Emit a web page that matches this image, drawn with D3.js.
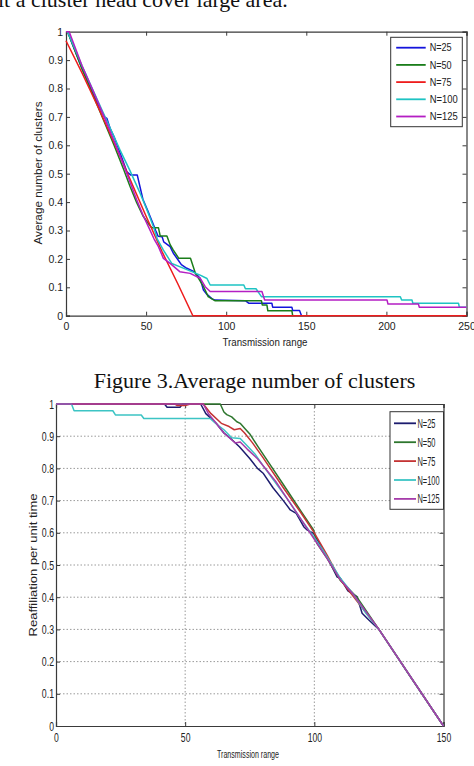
<!DOCTYPE html>
<html><head><meta charset="utf-8">
<script src="https://cdn.jsdelivr.net/npm/d3@7"></script>
<style>
html,body{margin:0;padding:0;background:#fff;overflow:hidden}
svg{display:block}
</style></head>
<body>
<svg id="c" width="474" height="766"></svg>
<script>
// ---------- DATA ----------
const seriesNames = ["N=25","N=50","N=75","N=100","N=125"];

// Figure 3: Average number of clusters vs Transmission range
const fig3XTicks = [0,50,100,150,200,250];
const fig3YTicks = [0,0.1,0.2,0.3,0.4,0.5,0.6,0.7,0.8,0.9,1];
const fig3N25 = [[1,1],[10,0.87],[20,0.745],[24,0.70],[25.5,0.695],[27.5,0.66],[30,0.63],[33,0.585],[38,0.507],[40.5,0.495],[44.5,0.495],[48,0.41],[51,0.37],[54.6,0.32],[56,0.30],[57.5,0.28],[60,0.278],[61,0.26],[65,0.243],[67,0.22],[70,0.196],[72,0.18],[75.4,0.167],[80,0.155],[83.7,0.132],[85.8,0.09],[88,0.075],[91,0.06],[93,0.055],[112,0.053],[114,0.044],[128.5,0.044],[129,0.03],[141,0.03],[141.5,0.018],[145.8,0.018],[147,0]];
const fig3N50 = [[1,1],[10,0.87],[20,0.735],[30,0.60],[36,0.515],[40,0.455],[44,0.40],[48,0.352],[52,0.32],[53.5,0.31],[57.7,0.31],[58.8,0.281],[63,0.281],[65,0.25],[67,0.231],[70.4,0.202],[77.7,0.202],[80.8,0.149],[85.9,0.102],[88.75,0.067],[92.9,0.053],[122,0.053],[122.5,0.038],[125.4,0.038],[126,0.017],[141,0.017],[141.5,0]];
const fig3N75 = [[0,0.968],[10,0.855],[20,0.735],[30,0.61],[40,0.48],[50,0.35],[60,0.225],[70,0.11],[75,0.05],[79.2,0],[250,0]];
const fig3N100 = [[1,1],[10,0.88],[20,0.755],[30,0.63],[33.75,0.583],[40,0.51],[46.25,0.431],[50,0.38],[54.6,0.313],[57,0.27],[60.8,0.231],[66,0.184],[71.25,0.172],[78.5,0.155],[83.75,0.143],[88,0.131],[90,0.108],[111,0.108],[112,0.095],[118.6,0.095],[122,0.067],[208.7,0.067],[209.5,0.055],[216,0.055],[216.5,0.044],[245,0.044],[245.5,0.03],[250,0.03]];
const fig3N125 = [[0,1],[2,1],[10,0.88],[17.1,0.789],[23.3,0.707],[30,0.615],[36,0.53],[40,0.47],[44,0.41],[48,0.355],[51.5,0.313],[55,0.27],[57.7,0.243],[60.8,0.202],[65,0.184],[71,0.155],[77.5,0.149],[83.75,0.132],[86.9,0.102],[90,0.085],[122.3,0.085],[124,0.055],[200.4,0.055],[201,0.041],[220,0.041],[220.5,0.03],[250,0.03]];

// Figure 4: Reaffiliation per unit time vs Transmission range
const fig4XTicks = [0,50,100,150];
const fig4YTicks = [0,0.1,0.2,0.3,0.4,0.5,0.6,0.7,0.8,0.9,1];
const fig4N25 = [[0,1],[42,1],[43,0.99],[48,0.99],[49,1],[56,1],[58,0.97],[62,0.94],[65,0.91],[68,0.89],[71,0.867],[75,0.831],[78,0.80],[80.3,0.784],[84,0.74],[88,0.70],[90.7,0.671],[93,0.66],[95.9,0.619],[97,0.61],[99.7,0.598],[104.9,0.525],[108.8,0.463],[110,0.46],[113,0.42],[116.5,0.402],[118.5,0.35],[121,0.33],[125,0.3],[137,0.155],[150,0]];
const fig4N50 = [[0,1],[63.6,1],[65,0.975],[66.1,0.967],[68,0.96],[70,0.945],[71.3,0.94],[73,0.925],[75.2,0.905],[78,0.87],[83,0.81],[88,0.75],[95,0.665],[99.7,0.609],[101,0.567],[105,0.52],[110,0.453],[116.5,0.40],[125,0.3],[150,0]];
const fig4N75 = [[0,1],[46,1],[47,0.995],[50,0.995],[52,1],[57,1],[60,0.97],[64,0.94],[67,0.93],[69,0.92],[71.3,0.924],[73,0.91],[76,0.88],[80,0.835],[88,0.74],[95,0.66],[100,0.60],[105,0.53],[110,0.455],[125,0.3],[150,0]];
const fig4N100 = [[0,1],[6,1],[7,0.979],[22,0.979],[23,0.966],[33,0.966],[34,0.955],[59.7,0.955],[61.6,0.941],[65,0.92],[68,0.895],[71.3,0.893],[74,0.87],[77,0.845],[80,0.81],[85,0.755],[90,0.70],[95,0.64],[100,0.585],[103,0.55],[110,0.46],[115,0.41],[120,0.35],[125,0.3],[150,0]];
const fig4N125 = [[0,1],[57,1],[59,0.97],[62,0.94],[65,0.91],[69.4,0.879],[71.3,0.882],[74,0.86],[78,0.83],[85,0.76],[90,0.70],[95,0.64],[100,0.58],[105,0.52],[110,0.455],[115,0.41],[125,0.3],[150,0]];

const fig3Colors = ["#1414dc","#1a7d1a","#ee1c1c","#1ec3c3","#b41ec3"];
const fig4Colors = ["#1c1c6e","#2d762d","#c43434","#3cc4c4","#a63caa"];

// ---------- DRAW ----------
const svg = d3.select("#c");

svg.append("text").attr("x",-2).attr("y",7)
  .attr("font-family","Liberation Serif, Times New Roman, serif").attr("font-size",22).attr("fill","#111")
  .text("it a cluster head cover large area.");

svg.append("text").attr("x",254.5).attr("y",388).attr("text-anchor","middle")
  .attr("font-family","Liberation Serif, Times New Roman, serif").attr("font-size",22).attr("fill","#111")
  .text("Figure 3.Average number of clusters");

function fmt(v){ return v===0?"0":(v===1?"1":d3.format(".1f")(v)); }
function narrowLen(s, dig, dot){ let w=0; for(const c of s){ w += (c==="."?dot:dig); } return w; }

function drawChart(o){
  const x = d3.scaleLinear().domain(o.xDomain).range([o.left,o.right]);
  const y = d3.scaleLinear().domain([0,1]).range([o.bottom,o.top]);
  const g = svg.append("g");
  if(o.grid){
    g.append("g").selectAll("line").data(o.yTicks.filter(d=>d>0&&d<1)).join("line")
      .attr("x1",o.left).attr("x2",o.right).attr("y1",d=>y(d)).attr("y2",d=>y(d))
      .attr("stroke","#9a9a9a").attr("stroke-width",1).attr("stroke-dasharray","1.5,2");
    g.append("g").selectAll("line").data(o.xTicks.filter(d=>d>o.xDomain[0]&&d<o.xDomain[1])).join("line")
      .attr("y1",o.top).attr("y2",o.bottom).attr("x1",d=>x(d)).attr("x2",d=>x(d))
      .attr("stroke","#9a9a9a").attr("stroke-width",1).attr("stroke-dasharray","1.5,2");
  }
  const tl = o.tickLen;
  const ax = g.append("g").attr("transform",`translate(0,${o.bottom})`)
    .call(d3.axisBottom(x).tickValues(o.xTicks).tickSize(-tl).tickPadding(o.xPad).tickFormat(d3.format("d")));
  const axT = g.append("g").attr("transform",`translate(0,${o.top})`)
    .call(d3.axisTop(x).tickValues(o.xTicks).tickSize(-tl).tickFormat(""));
  const ay = g.append("g").attr("transform",`translate(${o.left},0)`)
    .call(d3.axisLeft(y).tickValues(o.yTicks).tickSize(-tl).tickPadding(o.yPad).tickFormat(fmt));
  const ayR = g.append("g").attr("transform",`translate(${o.right},0)`)
    .call(d3.axisRight(y).tickValues(o.yTicks).tickSize(-tl).tickFormat(""));
  [ax,axT,ay,ayR].forEach(a=>{
    a.select(".domain").attr("stroke","#3a3a3a").attr("stroke-width",1.2);
    a.selectAll(".tick line").attr("stroke","#3a3a3a");
    a.selectAll("text").attr("font-family",o.tickFont).attr("font-size",o.tickSize).attr("fill","#222");
  });
  if(o.narrow){
    [ax,ay].forEach(a=>a.selectAll("text").each(function(){
      const s = d3.select(this).text();
      d3.select(this).attr("textLength",narrowLen(s,o.narrow[0],o.narrow[1])).attr("lengthAdjust","spacingAndGlyphs");
    }));
  }
  const line = d3.line().x(d=>x(d[0])).y(d=>y(d[1]));
  o.series.forEach((s,i)=>{
    g.append("path").datum(s).attr("d",line).attr("fill","none")
      .attr("stroke",o.colors[i]).attr("stroke-width",o.lw).attr("stroke-linejoin","round");
  });
  g.append("text").attr("x",o.xLabelPos[0]).attr("y",o.xLabelPos[1]).attr("text-anchor","middle")
    .attr("font-family",o.labelFont).attr("font-size",o.xLabelSize||o.labelSize).attr("fill","#222")
    .attr("textLength",o.xLabelLen).attr("lengthAdjust","spacingAndGlyphs").text(o.xLabel);
  g.append("text").attr("transform",`translate(${o.yLabelPos[0]},${o.yLabelPos[1]}) rotate(-90)`)
    .attr("text-anchor","middle").attr("font-family",o.labelFont).attr("font-size",o.labelSize).attr("fill","#222")
    .attr("textLength",o.yLabelLen).attr("lengthAdjust","spacingAndGlyphs").text(o.yLabel);
  const L = o.legend;
  g.append("rect").attr("x",L.x).attr("y",L.y).attr("width",L.w).attr("height",L.h)
    .attr("fill","#fff").attr("stroke","#333").attr("stroke-width",1);
  seriesNames.forEach((n,i)=>{
    const yy = L.y + L.first + i*L.step;
    g.append("line").attr("x1",L.x+L.l1).attr("x2",L.x+L.l2).attr("y1",yy).attr("y2",yy)
      .attr("stroke",o.colors[i]).attr("stroke-width",o.lw+0.3);
    const t = g.append("text").attr("x",L.x+L.tx).attr("y",yy).attr("dy","0.35em")
      .attr("font-family",o.legendFont).attr("font-size",L.fs).attr("fill","#222").text(n);
    if(L.len) t.attr("textLength",L.len[i]).attr("lengthAdjust","spacingAndGlyphs");
  });
}

drawChart({
  xDomain:[0,250], left:66, right:466.5, top:31.7, bottom:315.7,
  xTicks:fig3XTicks, yTicks:fig3YTicks, tickLen:4, grid:false, xPad:7, yPad:3,
  tickFont:"Liberation Sans, Arial, sans-serif", tickSize:10.5,
  series:[fig3N25,fig3N50,fig3N75,fig3N100,fig3N125], colors:fig3Colors, lw:1.5,
  labelFont:"Liberation Sans, Arial, sans-serif", labelSize:10,
  xLabel:"Transmission range", xLabelPos:[265,346], xLabelLen:85,
  yLabel:"Average number of clusters", yLabelPos:[42,173], yLabelLen:143,
  legendFont:"Liberation Sans, Arial, sans-serif",
  legend:{x:390.7,y:37.3,w:71.6,h:89.4,first:10.4,step:17.2,l1:5.5,l2:35,tx:39,fs:10.5,len:[22,22,22,28,28]}
});

drawChart({
  xDomain:[0,150], left:56, right:443.5, top:404, bottom:726,
  xTicks:fig4XTicks, yTicks:fig4YTicks, tickLen:4, grid:true, xPad:7, yPad:2,
  tickFont:"Liberation Sans, Arial, sans-serif", tickSize:13, narrow:[4.8,2.6],
  series:[fig4N25,fig4N50,fig4N75,fig4N100,fig4N125], colors:fig4Colors, lw:1.5,
  labelFont:"Liberation Sans, Arial, sans-serif", labelSize:10, xLabelSize:11.5,
  xLabel:"Transmission range", xLabelPos:[248,758], xLabelLen:62,
  yLabel:"Reaffiliation per unit time", yLabelPos:[37,565], yLabelLen:143,
  legendFont:"Liberation Sans, Arial, sans-serif",
  legend:{x:390,y:411.7,w:53.5,h:97.6,first:11.6,step:18.9,l1:4,l2:26,tx:27.5,fs:13,len:[18,18,18,22,22]}
});
</script>
</body></html>
